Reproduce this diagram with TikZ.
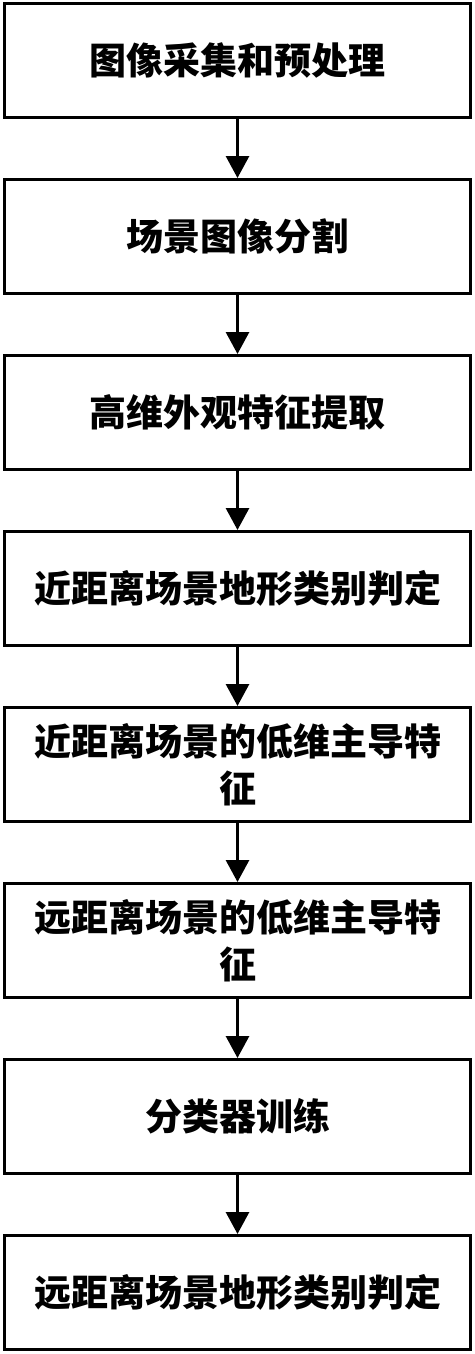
\documentclass[tikz,border=0pt]{standalone}
\usepackage{fontspec}
\usepackage{tikz}
\usetikzlibrary{
    positioning,
    arrows.meta
}
\newfontfamily\cjk{Noto Sans CJK SC}

\tikzset{
    caixa/.style={
        draw=black,
        line width=3pt,
        minimum width=466pt,
        minimum height=114pt,
        inner sep=0pt,
        align=center,
        font=\cjk\bfseries\fontsize{37}{47}\selectfont
    },
    seta/.style={
        draw=black,
        line width=3pt,
        -{Triangle[width=23pt,length=22pt]}
    }
}

\begin{document}
\begin{tikzpicture}[node distance=59pt]
                \useasboundingbox (0pt,0pt) rectangle (474pt,-1354pt);

                \node[caixa] (aquisicao) at (237.5pt,-60.5pt) {图像采集和预处理};
                \node[caixa, below=of aquisicao] (segmentacao) {场景图像分割};
                \node[caixa, below=of segmentacao] (extracao) {高维外观特征提取};
                \node[caixa, below=of extracao] (terrenoperto) {近距离场景地形类别判定};
                \node[caixa, below=of terrenoperto] (dominanteperto) {近距离场景的低维主导特\\征};
                \node[caixa, below=of dominanteperto] (dominantelonge) {远距离场景的低维主导特\\征};
                \node[caixa, below=of dominantelonge] (treino) {分类器训练};
                \node[caixa, below=of treino] (terrenolonge) {远距离场景地形类别判定};

                % setas entre as etapas
                \draw[seta] (aquisicao) -- (segmentacao);
                \draw[seta] (segmentacao) -- (extracao);
                \draw[seta] (extracao) -- (terrenoperto);
                \draw[seta] (terrenoperto) -- (dominanteperto);
                \draw[seta] (dominanteperto) -- (dominantelonge);
                \draw[seta] (dominantelonge) -- (treino);
                \draw[seta] (treino) -- (terrenolonge);
            \end{tikzpicture}
\end{document}
